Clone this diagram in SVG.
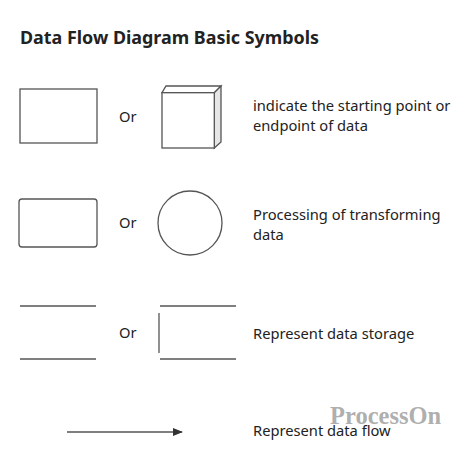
<svg xmlns="http://www.w3.org/2000/svg" width="474" height="463" viewBox="0 0 474 463">
<style>
.t{font-family:"Noto Sans","Open Sans",sans-serif;font-size:14.7px;fill:#222}
.s{fill:#fff;stroke:#555;stroke-width:1.3}
.l{stroke:#555;stroke-width:1.3;fill:none}
</style>
<defs>
<marker id="ah" markerWidth="10" markerHeight="8" refX="9" refY="4" orient="auto" markerUnits="userSpaceOnUse">
<path d="M0,0 L10,4 L0,8 Z" fill="#333"/>
</marker>
</defs>
<rect width="474" height="463" fill="#fff"/>
<text x="20" y="44" font-family="'Noto Sans','Open Sans',sans-serif" font-size="17.9" font-weight="bold" fill="#222">Data Flow Diagram Basic Symbols</text>
<g id="entity-rect"><rect class="s" x="20" y="89" width="77" height="54"/></g>
<g id="or1"><text class="t" x="119" y="122">Or</text></g>
<g id="entity-cube">
<path d="M162,92.7 L166,86 L221,86 L214.3,92.7 Z" class="s"/>
<path d="M214.3,92.7 L221,86 L221,142 L214.3,148 Z" fill="#e6e6e6" stroke="#555" stroke-width="1.3"/>
<rect class="s" x="162" y="92.7" width="52.3" height="55.3"/>
</g>
<g id="desc1"><text class="t" x="253" y="111">indicate the starting point or</text><text class="t" x="253" y="131">endpoint of data</text></g>
<g id="process-rect"><rect class="s" x="19" y="199" width="78" height="48" rx="3"/></g>
<g id="or2"><text class="t" x="119" y="228">Or</text></g>
<g id="process-circle"><circle class="s" cx="190" cy="223" r="32"/></g>
<g id="desc2"><text class="t" x="253" y="220">Processing of transforming</text><text class="t" x="253" y="240">data</text></g>
<g id="store1"><line class="l" x1="20" y1="306" x2="96" y2="306"/><line class="l" x1="20" y1="359" x2="96" y2="359"/></g>
<g id="or3"><text class="t" x="119" y="338">Or</text></g>
<g id="store2"><line class="l" x1="160" y1="306" x2="236" y2="306"/><line class="l" x1="160" y1="359" x2="236" y2="359"/><line class="l" x1="159" y1="313" x2="159" y2="353"/></g>
<g id="desc3"><text class="t" x="253" y="339">Represent data storage</text></g>
<g id="connectors"><line class="l" x1="67" y1="432" x2="182" y2="432" stroke="#444" marker-end="url(#ah)"/></g>
<g id="desc4"><text class="t" x="253" y="436">Represent data flow</text></g>
<text x="330" y="424" font-family="'Liberation Serif',serif" font-size="24.5" font-weight="bold" fill="#999" fill-opacity="0.8">ProcessOn</text>
</svg>
